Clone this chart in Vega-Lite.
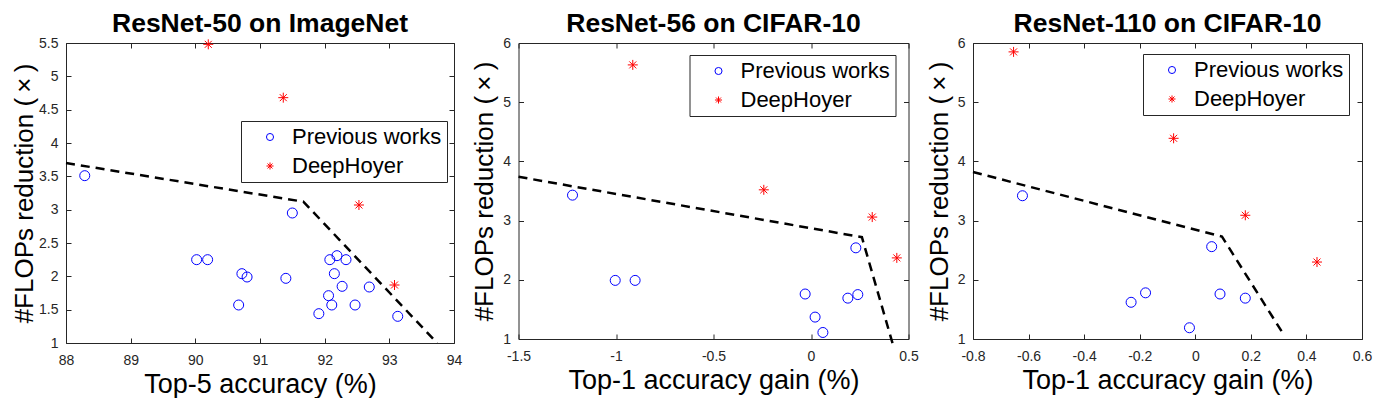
{
  "$schema": "https://vega.github.io/schema/vega-lite/v6.json",
  "padding": {"left": 10, "top": 10, "right": 0, "bottom": 0},
  "spacing": 64.5,
  "bounds": "flush",
  "background": "white",
  "config": {
    "font": "Liberation Sans",
    "view": {"stroke": "#262626", "strokeWidth": 1},
    "axis": {"labelFont": "Liberation Sans", "labelFontSize": 14, "labelColor": "#262626", "titleFont": "Liberation Sans", "titleFontWeight": "normal", "titleColor": "#000000", "tickColor": "#262626", "domain": false, "grid": false, "labelFlush": false, "tickSize": -5, "labelPadding": 13},
    "axisBottom": {"titlePadding": 4, "titleFontSize": 27, "labelPadding": 15},
    "axisLeft": {"titleFontSize": 26, "titleBaseline": "alphabetic"},
    "title": {"font": "Liberation Sans", "fontSize": 26.5, "fontWeight": "bold", "color": "#000000", "offset": -1},
    "legend": {"labelFont": "Liberation Sans", "labelFontSize": 22, "labelColor": "#000000", "symbolSize": 50, "symbolStrokeWidth": 1, "strokeColor": "#262626", "fillColor": "white", "padding": 5, "rowPadding": 7, "symbolOffset": 13, "labelOffset": 11}
  },
  "resolve": {"legend": {"color": "independent", "shape": "independent"}},
  "hconcat": [
    {
      "width": 388, "height": 300,
      "title": "ResNet-50 on ImageNet",
      "resolve": {"axis": {"x": "independent", "y": "independent"}},
      "layer": [
        {
          "data": {"values": [{"x": 88, "y": 3.70}, {"x": 91.67, "y": 3.12}, {"x": 93.74, "y": 1.0}]},
          "mark": {"type": "line", "color": "#000000", "strokeWidth": 2.5, "strokeDash": [9, 6]},
          "encoding": {
            "x": {"field": "x", "type": "quantitative", "scale": {"domain": [88, 94], "nice": false, "zero": false},
                  "axis": {"orient": "bottom", "title": "Top-5 accuracy (%)", "values": [88, 89, 90, 91, 92, 93, 94], "labelExpr": "replace(format(datum.value, '~g'), '\u2212', '-')"}},
            "y": {"field": "y", "type": "quantitative", "scale": {"domain": [1, 5.5], "nice": false, "zero": false},
                  "axis": {"orient": "left", "title": "#FLOPs reduction (\u2009×\u2009)", "titleX": -34, "values": [1, 1.5, 2, 2.5, 3, 3.5, 4, 4.5, 5, 5.5], "labelExpr": "replace(format(datum.value, '~g'), '\u2212', '-')"}}
          }
        },
        {
          "data": {"values": [
            {"x": 88.29, "y": 3.51, "group": "Previous works"},
            {"x": 91.50, "y": 2.95, "group": "Previous works"},
            {"x": 90.02, "y": 2.25, "group": "Previous works"},
            {"x": 90.19, "y": 2.25, "group": "Previous works"},
            {"x": 90.72, "y": 2.04, "group": "Previous works"},
            {"x": 90.80, "y": 1.99, "group": "Previous works"},
            {"x": 90.67, "y": 1.57, "group": "Previous works"},
            {"x": 91.40, "y": 1.97, "group": "Previous works"},
            {"x": 91.91, "y": 1.44, "group": "Previous works"},
            {"x": 92.06, "y": 1.71, "group": "Previous works"},
            {"x": 92.11, "y": 1.57, "group": "Previous works"},
            {"x": 92.08, "y": 2.25, "group": "Previous works"},
            {"x": 92.19, "y": 2.31, "group": "Previous works"},
            {"x": 92.33, "y": 2.25, "group": "Previous works"},
            {"x": 92.15, "y": 2.04, "group": "Previous works"},
            {"x": 92.27, "y": 1.85, "group": "Previous works"},
            {"x": 92.47, "y": 1.57, "group": "Previous works"},
            {"x": 92.69, "y": 1.84, "group": "Previous works"},
            {"x": 93.13, "y": 1.40, "group": "Previous works"},
            {"x": 90.20, "y": 5.48, "group": "DeepHoyer"},
            {"x": 91.36, "y": 4.68, "group": "DeepHoyer"},
            {"x": 92.53, "y": 3.07, "group": "DeepHoyer"},
            {"x": 93.08, "y": 1.87, "group": "DeepHoyer"}
          ]},
          "mark": {"type": "point", "filled": false, "size": 100, "strokeWidth": 1, "opacity": 1},
          "encoding": {
            "x": {"field": "x", "type": "quantitative", "scale": {"domain": [88, 94], "nice": false, "zero": false},
                  "axis": {"orient": "top", "title": null, "labels": false, "values": [88, 89, 90, 91, 92, 93, 94]}},
            "y": {"field": "y", "type": "quantitative", "scale": {"domain": [1, 5.5], "nice": false, "zero": false},
                  "axis": {"orient": "right", "title": null, "labels": false, "values": [1, 1.5, 2, 2.5, 3, 3.5, 4, 4.5, 5, 5.5]}},
            "color": {"field": "group", "type": "nominal", "scale": {"domain": ["Previous works", "DeepHoyer"], "range": ["#0000ff", "#ff0000"]},
                      "legend": {"orient": "none", "legendX": 175, "legendY": 78, "title": null}},
            "shape": {"field": "group", "type": "nominal", "scale": {"domain": ["Previous works", "DeepHoyer"], "range": ["circle", "M0,-1L0,1M-1,0L1,0M-0.7,-0.7L0.7,0.7M-0.7,0.7L0.7,-0.7"]},
                      "legend": {"orient": "none", "legendX": 175, "legendY": 78, "title": null}}
          }
        }
      ]
    },
    {
      "width": 390, "height": 296,
      "title": "ResNet-56 on CIFAR-10",
      "resolve": {"axis": {"x": "independent", "y": "independent"}},
      "layer": [
        {
          "data": {"values": [{"x": -1.5, "y": 3.74}, {"x": 0.261, "y": 2.72}, {"x": 0.418, "y": 0.93}]},
          "mark": {"type": "line", "color": "#000000", "strokeWidth": 2.5, "strokeDash": [9, 6]},
          "encoding": {
            "x": {"field": "x", "type": "quantitative", "scale": {"domain": [-1.5, 0.5], "nice": false, "zero": false},
                  "axis": {"orient": "bottom", "title": "Top-1 accuracy gain (%)", "values": [-1.5, -1, -0.5, 0, 0.5], "labelExpr": "replace(format(datum.value, '~g'), '\u2212', '-')"}},
            "y": {"field": "y", "type": "quantitative", "scale": {"domain": [1, 6], "nice": false, "zero": false},
                  "axis": {"orient": "left", "title": "#FLOPs reduction (\u2009×\u2009)", "titleX": -26, "values": [1, 2, 3, 4, 5, 6], "labelExpr": "replace(format(datum.value, '~g'), '\u2212', '-')"}}
          }
        },
        {
          "data": {"values": [
            {"x": -1.223, "y": 3.43, "group": "Previous works"},
            {"x": -1.004, "y": 1.99, "group": "Previous works"},
            {"x": -0.902, "y": 1.99, "group": "Previous works"},
            {"x": -0.030, "y": 1.76, "group": "Previous works"},
            {"x": 0.021, "y": 1.37, "group": "Previous works"},
            {"x": 0.061, "y": 1.11, "group": "Previous works"},
            {"x": 0.189, "y": 1.69, "group": "Previous works"},
            {"x": 0.240, "y": 1.75, "group": "Previous works"},
            {"x": 0.230, "y": 2.54, "group": "Previous works"},
            {"x": -0.914, "y": 5.63, "group": "DeepHoyer"},
            {"x": -0.242, "y": 3.52, "group": "DeepHoyer"},
            {"x": 0.314, "y": 3.06, "group": "DeepHoyer"},
            {"x": 0.440, "y": 2.37, "group": "DeepHoyer"}
          ]},
          "mark": {"type": "point", "filled": false, "size": 100, "strokeWidth": 1, "opacity": 1},
          "encoding": {
            "x": {"field": "x", "type": "quantitative", "scale": {"domain": [-1.5, 0.5], "nice": false, "zero": false},
                  "axis": {"orient": "top", "title": null, "labels": false, "values": [-1.5, -1, -0.5, 0, 0.5]}},
            "y": {"field": "y", "type": "quantitative", "scale": {"domain": [1, 6], "nice": false, "zero": false},
                  "axis": {"orient": "right", "title": null, "labels": false, "values": [1, 2, 3, 4, 5, 6]}},
            "color": {"field": "group", "type": "nominal", "scale": {"domain": ["Previous works", "DeepHoyer"], "range": ["#0000ff", "#ff0000"]},
                      "legend": {"orient": "none", "legendX": 171, "legendY": 12, "title": null}},
            "shape": {"field": "group", "type": "nominal", "scale": {"domain": ["Previous works", "DeepHoyer"], "range": ["circle", "M0,-1L0,1M-1,0L1,0M-0.7,-0.7L0.7,0.7M-0.7,0.7L0.7,-0.7"]},
                      "legend": {"orient": "none", "legendX": 171, "legendY": 12, "title": null}}
          }
        }
      ]
    },
    {
      "width": 389, "height": 296,
      "title": "ResNet-110 on CIFAR-10",
      "resolve": {"axis": {"x": "independent", "y": "independent"}},
      "layer": [
        {
          "data": {"values": [{"x": -0.8, "y": 3.82}, {"x": 0.096, "y": 2.73}, {"x": 0.312, "y": 1.12}]},
          "mark": {"type": "line", "color": "#000000", "strokeWidth": 2.5, "strokeDash": [9, 6]},
          "encoding": {
            "x": {"field": "x", "type": "quantitative", "scale": {"domain": [-0.8, 0.6], "nice": false, "zero": false},
                  "axis": {"orient": "bottom", "title": "Top-1 accuracy gain (%)", "values": [-0.8, -0.6, -0.4, -0.2, 0, 0.2, 0.4, 0.6], "labelExpr": "replace(format(datum.value, '~g'), '\u2212', '-')"}},
            "y": {"field": "y", "type": "quantitative", "scale": {"domain": [1, 6], "nice": false, "zero": false},
                  "axis": {"orient": "left", "title": "#FLOPs reduction (\u2009×\u2009)", "titleX": -26, "values": [1, 2, 3, 4, 5, 6], "labelExpr": "replace(format(datum.value, '~g'), '\u2212', '-')"}}
          }
        },
        {
          "data": {"values": [
            {"x": -0.622, "y": 3.42, "group": "Previous works"},
            {"x": -0.231, "y": 1.62, "group": "Previous works"},
            {"x": -0.179, "y": 1.78, "group": "Previous works"},
            {"x": -0.021, "y": 1.19, "group": "Previous works"},
            {"x": 0.059, "y": 2.56, "group": "Previous works"},
            {"x": 0.089, "y": 1.76, "group": "Previous works"},
            {"x": 0.180, "y": 1.69, "group": "Previous works"},
            {"x": -0.654, "y": 5.85, "group": "DeepHoyer"},
            {"x": -0.078, "y": 4.39, "group": "DeepHoyer"},
            {"x": 0.180, "y": 3.09, "group": "DeepHoyer"},
            {"x": 0.438, "y": 2.30, "group": "DeepHoyer"}
          ]},
          "mark": {"type": "point", "filled": false, "size": 100, "strokeWidth": 1, "opacity": 1},
          "encoding": {
            "x": {"field": "x", "type": "quantitative", "scale": {"domain": [-0.8, 0.6], "nice": false, "zero": false},
                  "axis": {"orient": "top", "title": null, "labels": false, "values": [-0.8, -0.6, -0.4, -0.2, 0, 0.2, 0.4, 0.6]}},
            "y": {"field": "y", "type": "quantitative", "scale": {"domain": [1, 6], "nice": false, "zero": false},
                  "axis": {"orient": "right", "title": null, "labels": false, "values": [1, 2, 3, 4, 5, 6]}},
            "color": {"field": "group", "type": "nominal", "scale": {"domain": ["Previous works", "DeepHoyer"], "range": ["#0000ff", "#ff0000"]},
                      "legend": {"orient": "none", "legendX": 170, "legendY": 11, "title": null}},
            "shape": {"field": "group", "type": "nominal", "scale": {"domain": ["Previous works", "DeepHoyer"], "range": ["circle", "M0,-1L0,1M-1,0L1,0M-0.7,-0.7L0.7,0.7M-0.7,0.7L0.7,-0.7"]},
                      "legend": {"orient": "none", "legendX": 170, "legendY": 11, "title": null}}
          }
        }
      ]
    }
  ]
}
